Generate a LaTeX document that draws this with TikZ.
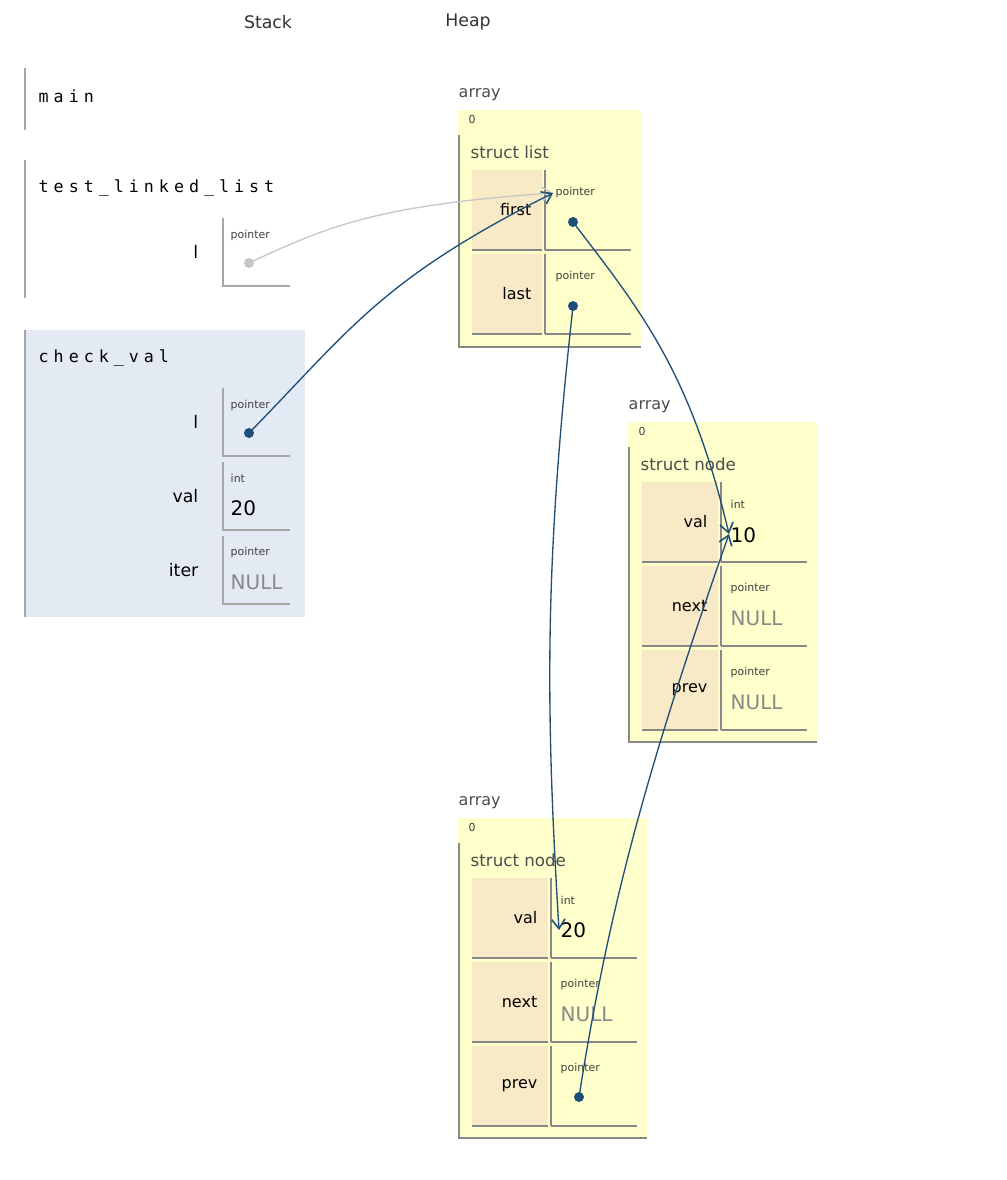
\documentclass[tikz,border=0pt]{standalone}
\usepackage{fontspec}
\setmainfont{DejaVu Sans}
\newfontfamily\mymono[LetterSpace=30]{DejaVu Sans Mono}
\usetikzlibrary{arrows.meta}
\definecolor{ptr}{HTML}{1F4E79}
\definecolor{yel}{HTML}{FFFFCC}
\definecolor{tan}{HTML}{F8EAC6}
\definecolor{frm}{HTML}{E4EAF4}
\definecolor{gln}{HTML}{888888}
\begin{document}
\begin{tikzpicture}[x=0.75pt,y=-0.75pt,
  hdr/.style={font=\fontsize{13}{13}\selectfont,text=black!80},
  fname/.style={font=\mymono\fontsize{12.5}{12}\selectfont,anchor=west},
  vname/.style={font=\fontsize{13}{13}\selectfont,anchor=east},
  small/.style={font=\fontsize{8.2}{8}\selectfont,text=black!75,anchor=west},
  val/.style={font=\fontsize{15}{15}\selectfont,anchor=west},
  null/.style={font=\fontsize{15}{15}\selectfont,anchor=west,text=gln},
  lbl/.style={font=\fontsize{12}{12}\selectfont,anchor=east},
  arr/.style={font=\fontsize{12}{12}\selectfont,anchor=west,text=black!70},
  sl/.style={font=\fontsize{12.5}{12}\selectfont,anchor=west,text=black!70},
  bx/.style={draw=black!35,line width=0.8pt},
  hb/.style={draw=gln,line width=1pt},
  dot/.style={circle,fill=ptr,inner sep=0pt,minimum size=7.5pt},
  ar/.style={draw=ptr,line width=1pt,-{Straight Barb[length=7pt,width=10pt,line width=1.2pt]}}]
\useasboundingbox (0,0) rectangle (1006,1180);
\node[hdr] (stk) at (268,22) {Stack};
\node[hdr] (hp) at (468,22) {Heap};
% stack frames
\draw[bx] (25,68) -- (25,130);
\node[fname] (fmain) at (34,96) {main};
\draw[bx] (25,160) -- (25,298);
\node[fname] (ftest) at (34,188) {test\_linked\_list};
\node[vname] (vl1) at (203,252) {l};
\draw[bx] (223,218) -- (223,286) -- (290,286);
\node[small] (tl1) at (226,235) {pointer};
\node[dot,fill=black!22] (d1) at (249,263) {};
\fill[frm] (25,330) rectangle (305,617);
\draw[bx] (25,330) -- (25,617);
\node[fname] (fcheck) at (34,358) {check\_val};
\node[vname] (vl2) at (203,422) {l};
\draw[bx] (223,388) -- (223,456) -- (290,456);
\node[small] (tl2) at (226,405) {pointer};
\node[dot] (d2) at (249,433) {};
\node[vname] (vv) at (203,496) {val};
\draw[bx] (223,462) -- (223,530) -- (290,530);
\node[small] (tv) at (226,478) {int};
\node[val] (v20) at (226,508) {20};
\node[vname] (vi) at (203,570) {iter};
\draw[bx] (223,536) -- (223,604) -- (290,604);
\node[small] (ti) at (226,552) {pointer};
\node[null] (ni) at (226,582) {NULL};
% heap array 1: struct list
\node[arr] (a1) at (454,95) {array};
\fill[yel] (458,110) rectangle (641,347);
\node[small] (i1) at (464,120) {0};
\draw[hb] (459,135) -- (459,347) -- (641,347);
\node[sl] (s1) at (466,152) {struct list};
\fill[tan] (472,170) rectangle (542,250);
\fill[tan] (472,254) rectangle (542,334);
\draw[hb] (545,170) -- (545,250) (472,250) -- (542,250) (545,250) -- (631,250);
\draw[hb] (545,254) -- (545,334) (472,334) -- (542,334) (545,334) -- (631,334);
\node[lbl] (lf) at (536,210) {first};
\node[lbl] (ll) at (536,294) {last};
\node[small] (pf) at (551,192) {pointer};
\node[small] (pl) at (551,276) {pointer};
\node[dot] (df) at (573,222) {};
\node[dot] (dl) at (573,306) {};
% heap array 2: node 10
\node[arr] (a2) at (624,407) {array};
\fill[yel] (628,422) rectangle (817,742);
\node[small] (i2) at (634,432) {0};
\draw[hb] (629,447) -- (629,742) -- (817,742);
\node[sl] (s2) at (636,464) {struct node};
\foreach \y in {482,566,650}{
  \fill[tan] (642,\y) rectangle (718,\y+80);
  \draw[hb] (721,\y) -- (721,\y+80) (642,\y+80) -- (718,\y+80) (721,\y+80) -- (807,\y+80);
}
\node[lbl] (b1) at (712,522) {val};
\node[lbl] (b2) at (712,606) {next};
\node[lbl] (b3) at (712,690) {prev};
\node[small] (b1t) at (726,504) {int};
\node[val] (b10) at (726,535) {10};
\node[small] (b2t) at (726,588) {pointer};
\node[null] (b2n) at (726,618) {NULL};
\node[small] (b3t) at (726,672) {pointer};
\node[null] (b3n) at (726,702) {NULL};
% heap array 3: node 20
\node[arr] (a3) at (454,803) {array};
\fill[yel] (458,818) rectangle (647,1138);
\node[small] (i3) at (464,828) {0};
\draw[hb] (459,843) -- (459,1138) -- (647,1138);
\node[sl] (s3) at (466,860) {struct node};
\foreach \y in {878,962,1046}{
  \fill[tan] (472,\y) rectangle (548,\y+80);
  \draw[hb] (551,\y) -- (551,\y+80) (472,\y+80) -- (548,\y+80) (551,\y+80) -- (637,\y+80);
}
\node[lbl] (c1) at (542,918) {val};
\node[lbl] (c2) at (542,1002) {next};
\node[lbl] (c3) at (542,1086) {prev};
\node[small] (c1t) at (556,900) {int};
\node[val] (c20) at (556,930) {20};
\node[small] (c2t) at (556,984) {pointer};
\node[null] (c2n) at (556,1014) {NULL};
\node[small] (c3t) at (556,1068) {pointer};
\node[dot] (dp) at (579,1097) {};
% targets
\coordinate (tf) at (553,193);
\coordinate (t10) at (729,534);
\coordinate (t20) at (559,930);
% arrows
\draw[ar,draw=black!22] (d1.center) .. controls (330,225) and (380,205) .. (tf);
\draw[ar] (d2.center) .. controls (350,330) and (380,280) .. (tf);
\draw[ar] (df.center) .. controls (640,310) and (690,370) .. (t10);
\draw[ar] (dl.center) .. controls (545,560) and (545,700) .. (t20);
\draw[ar] (dp.center) .. controls (610,900) and (650,760) .. (t10);
\end{tikzpicture}
\end{document}
